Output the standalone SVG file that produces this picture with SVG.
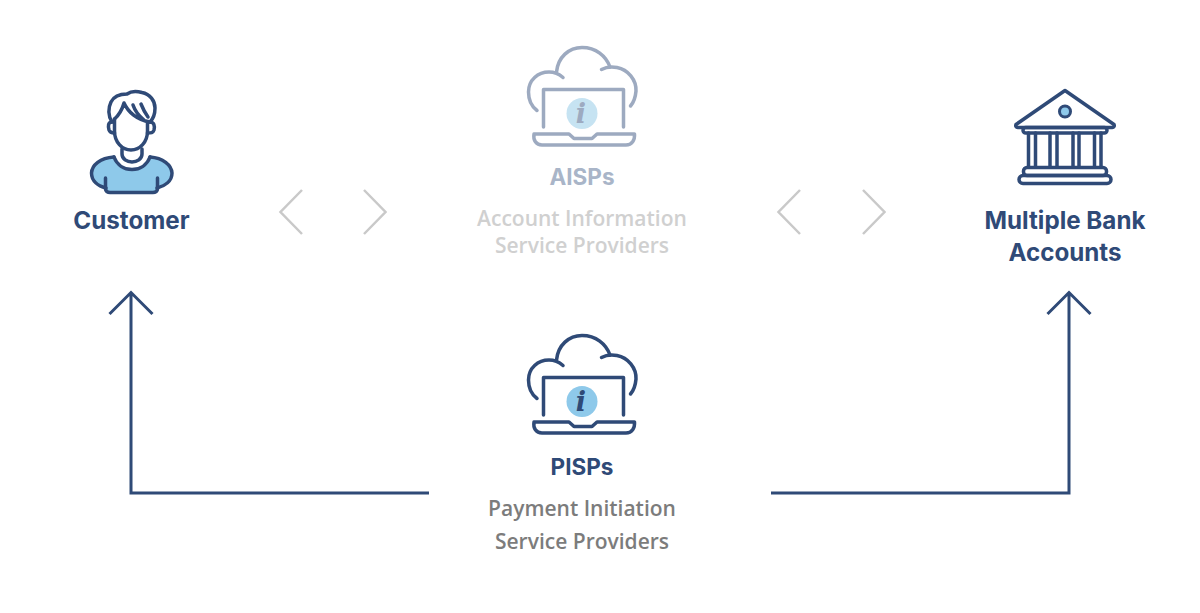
<svg xmlns="http://www.w3.org/2000/svg" xmlns:xlink="http://www.w3.org/1999/xlink" width="1200" height="613" viewBox="0 0 1200 613">
<style>
.ln{fill:none;stroke-width:3.500;stroke-linecap:round;stroke-linejoin:round}
.navy{stroke:#2f4a77}
.pale{stroke:#9daac0}
.conn{fill:none;stroke:#2f4a77;stroke-width:3}
.chev{fill:none;stroke:#c9c9c9;stroke-width:2.500}
.h{font-family:Inter,"Liberation Sans",sans-serif;font-weight:700;font-size:22.500px;text-anchor:middle;fill:#2f4a77}
.big{font-size:24.200px}
.s{font-family:"Open Sans","Noto Sans",sans-serif;font-weight:600;font-size:21px;text-anchor:middle;fill:#7c7c7c}
.i{font-family:"DejaVu Serif",serif;font-weight:700;font-style:italic;font-size:27px;text-anchor:middle}
</style>
<defs>
<g id="laptop-cloud">
<path d="M537 398.500C531 394 528.500 387 528.500 380C528.500 368 538 360 549 360C554 360 559 362 563 365.500"/>
<path d="M556.500 360C558 345 569 335.500 582 335.500C596 335.500 606 344 610 355"/>
<path d="M601.500 357.500C606 355 612 354.500 617 355.500C628 357.500 636.500 368 636 379C635.500 385 634 390 630.500 394"/>
<path d="M543.500 415V377.500H623.500V415"/>
<path d="M534 422H569L574 426.500H592L597 422H634.500C635 428 632 433 626 433H542C536 433 533 428 534 422Z"/>
</g>
</defs>
<g id="connectors">
<path class="conn" d="M429 493H131V293M109.500 314L131 292.500L152.500 314"/>
<path class="conn" d="M771 493H1069V293M1047.500 314L1069 292.500L1090.500 314"/>
<path class="chev" d="M302 190L280.500 212L302 234"/>
<path class="chev" d="M364 190L385.500 212L364 234"/>
<path class="chev" d="M800 190L778.500 212L800 234"/>
<path class="chev" d="M863 190L884.500 212L863 234"/>
</g>
<g id="customer">
<path d="M114 157C100 158 92 165 91.500 173C91.500 181 98 186 106 188V189C106 191 108 192.500 110 192.500H153C155 192.500 157 191 157 189V188C165 186 172 181 172 173C171.500 165 163 158 150 157C147 165 140 169.500 132 169.500C124 169.500 117 165 114 157Z" fill="#8ec9ea"/>
<g class="ln navy">
<path d="M114 157C100 158 92 165 91.500 173C91.500 181 98 186 106 188M150 157C163 158 171.500 165 172 173C172 181 165 186 157 188"/>
<path d="M114 157C117 165 124 169.500 132 169.500C140 169.500 147 165 150 157"/>
<path d="M122 149V154C122 159 127 162 132 162C137 162 142 159 142 154V149"/>
<path d="M105.500 178V189C105.500 191 107.500 192.500 110 192.500H153C155.500 192.500 157.500 191 157.500 189V178"/>
<path d="M114.500 119V131C114.500 142 122 150 131 150C140 150 147.500 142 147.500 131V122"/>
<path d="M112 122C108 116 108 108 111 102C114 96 120 94 127 94C131 91 137 91 142 92.500C150 94 155 101 155 108C155 114 154 118 150 122"/>
<path d="M114.500 119C119 115 122 110 124 103C128 112 137 120 150 122M133 105C135 111 139 116 144 120M141 104C143 109 145 113 148 117"/>
<path d="M112 122C108 122 108 126 109 130C110 133 112 133 114.500 133M150 122C154 122 155 126 154 130C153 133 151 133 147.500 133"/>
</g>
<text class="h big" x="131.500" y="229">Customer</text>
</g>
<g id="aisps">
<circle cx="582" cy="113.500" r="15.500" fill="#c6e3f2"/>
<text class="i" x="581" y="123" fill="#9daac0">i</text>
<use xlink:href="#laptop-cloud" href="#laptop-cloud" class="ln pale" y="-288"/>
<text class="h" x="582" y="185" style="fill:#a9b5c8">AISPs</text>
<text class="s" x="582" y="226" style="fill:#d0d0d0">Account Information</text>
<text class="s" x="582" y="253" style="fill:#d0d0d0">Service Providers</text>
</g>
<g id="pisps">
<circle cx="582" cy="401.500" r="15.500" fill="#8ec9ea"/>
<text class="i" x="581" y="411" fill="#2f4a77">i</text>
<use xlink:href="#laptop-cloud" href="#laptop-cloud" class="ln navy"/>
<text class="h" x="582" y="475">PISPs</text>
<text class="s" x="582" y="516">Payment Initiation</text>
<text class="s" x="582" y="549">Service Providers</text>
</g>
<g id="bank">
<g class="ln navy">
<path d="M1065 90.500L1114 124.500Q1115 127 1112 127.500H1018Q1015 127 1016 124.500Z"/>
<rect x="1023" y="127.500" width="84" height="5.500" rx="2.700"/>
<path d="M1028.500 133V167M1035.500 133V167M1050 133V167M1057 133V167M1073 133V167M1079 133V167M1094.500 133V167M1101 133V167"/>
<rect x="1023.500" y="167.500" width="83" height="8" rx="3.500"/>
<rect x="1019" y="175.500" width="92" height="8" rx="4"/>
</g>
<circle cx="1065" cy="111.500" r="5.500" fill="#8ec9ea" stroke="#2f4a77" stroke-width="3"/>
<text class="h big" x="1065" y="229">Multiple Bank</text>
<text class="h big" x="1065" y="261">Accounts</text>
</g>
</svg>
